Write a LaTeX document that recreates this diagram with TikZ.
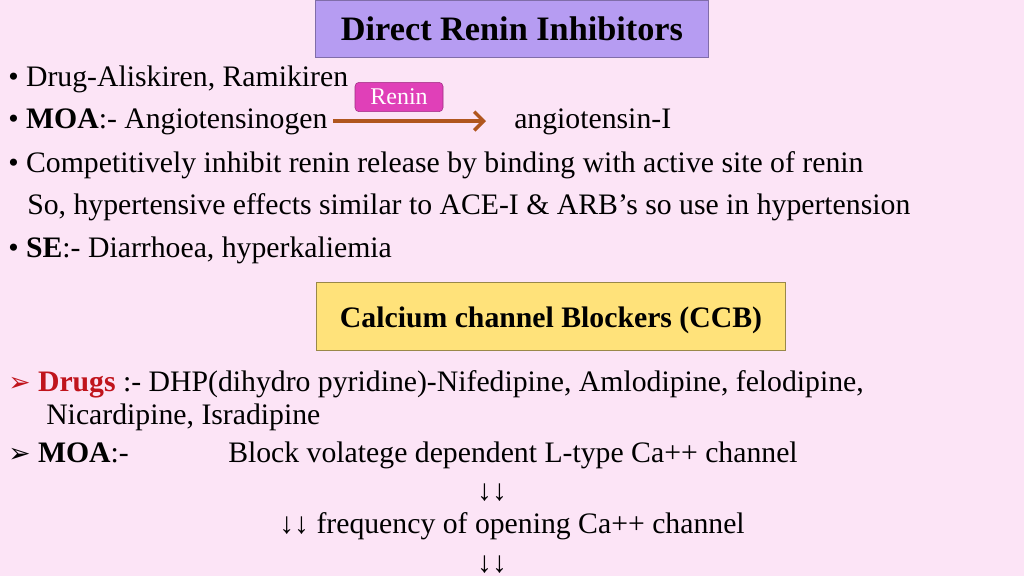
\documentclass[tikz,border=0pt]{standalone}
\usepackage{fontspec}
\usetikzlibrary{arrows.meta}
\setmainfont{Liberation Serif}
\newfontfamily\symf{DejaVu Sans}
\definecolor{bg}{HTML}{FCE4F6}
\definecolor{purp}{HTML}{B69CF2}
\definecolor{yel}{HTML}{FFE27A}
\definecolor{mag}{HTML}{E040B8}
\definecolor{brn}{HTML}{B0561E}
\definecolor{drg}{HTML}{C0141C}
\begin{document}
\begin{tikzpicture}[x=0.75pt,y=-0.75pt,
 txt/.style={anchor=base west,inner sep=0pt,font=\fontsize{22.3}{26}\selectfont},
 ctr/.style={anchor=base,inner sep=0pt,font=\fontsize{22.3}{26}\selectfont}]
\fill[bg] (0,0) rectangle (1024,576);
\useasboundingbox (0,0) rectangle (1024,576);
\draw[purp!70!black,fill=purp] (315,0) rectangle (708,57);
\node[ctr,font=\bfseries\fontsize{25.7}{30}\selectfont] (t1) at (512,40) {Direct Renin Inhibitors};
\node[txt] (l1) at (8,86) {\textbullet\ Drug-Aliskiren, Ramikiren};
\node[txt] (l2) at (8,128) {\textbullet\ \textbf{MOA}:- Angiotensinogen};
\node[txt] (l2b) at (514,128) {angiotensin-I};
\coordinate (a1) at (333,121);
\coordinate (a2) at (486,121);
\draw[brn,line width=2.6pt,-{Straight Barb[length=7pt,width=14pt]}] (a1) -- (a2);
\node[draw=mag!70!black,fill=mag,text=white,rounded corners=3pt,minimum width=66pt,minimum height=22pt,inner sep=2pt,font=\fontsize{18}{20}\selectfont] (renin) at (399,97) {Renin};
\node[txt] (l3) at (8,172) {\textbullet\ Competitively inhibit renin release by binding with active site of renin};
\node[txt] (l4) at (27,214) {So, hypertensive effects similar to ACE-I \& ARB’s so use in hypertension};
\node[txt] (l5) at (8,257) {\textbullet\ \textbf{SE}:- Diarrhoea, hyperkaliemia};
\draw[yel!60!black,fill=yel] (316,282) rectangle (785,350);
\node[ctr,font=\bfseries\fontsize{22.3}{26}\selectfont] (t2) at (551,327) {Calcium channel Blockers (CCB)};
\node[txt] (d1) at (8,391) {{\symf\color{drg}\fontsize{20}{22}\selectfont ➢}\ \textbf{\color{drg}Drugs} :- DHP(dihydro pyridine)-Nifedipine, Amlodipine, felodipine,};
\node[txt] (d2) at (46,424) {Nicardipine, Isradipine};
\node[txt] (m1) at (8,462) {{\symf\fontsize{20}{22}\selectfont ➢}\ \textbf{MOA}:-};
\node[txt] (m2) at (228,462) {Block volatege dependent L-type Ca++ channel};
\node[ctr] (dd1) at (492,500) {↓↓};
\node[ctr] (fr) at (512,533) {↓↓ frequency of opening Ca++ channel};
\node[ctr] (dd2) at (492,572) {↓↓};
\end{tikzpicture}
\end{document}
